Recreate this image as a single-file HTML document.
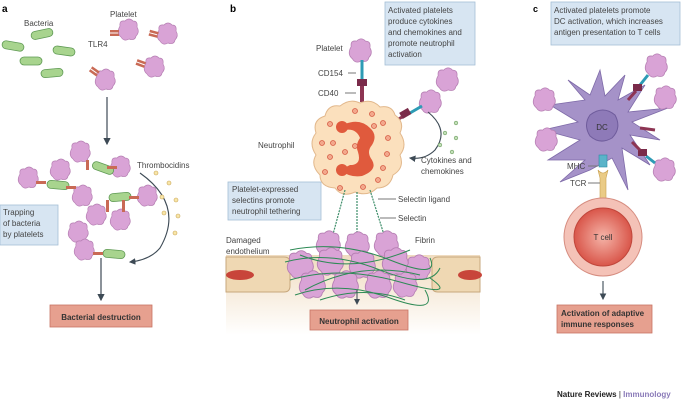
<!DOCTYPE html>
<html><head><meta charset="utf-8"><style>
body{margin:0;background:#fff}
svg{display:block;font-family:"Liberation Sans",sans-serif}
</style></head><body>
<svg width="685" height="405" viewBox="0 0 685 405" xmlns="http://www.w3.org/2000/svg">
<defs>
<g id="pl"><path d="M-8,-4 Q-9,-10 -3,-9 Q1,-13 5,-9 Q10,-9 9,-3 Q12,2 8,6 Q7,11 1,9 Q-4,12 -7,7 Q-12,3 -8,-4Z" fill="#d9a3d6" stroke="#b67fb3" stroke-width="0.7"/></g>
<g id="rod"><rect x="-11" y="-4" width="22" height="8" rx="4" fill="#a8d48e" stroke="#5f9a54" stroke-width="0.8"/></g>
<g id="tlr"><rect x="-9" y="-3" width="9" height="2.5" fill="#c96a55"/><rect x="-9" y="0.5" width="9" height="2.5" fill="#c96a55"/></g>
<marker id="ah" markerWidth="6" markerHeight="6" refX="5" refY="3" orient="auto"><path d="M0,0 L6,3 L0,6Z" fill="#3d4a55"/></marker>
<linearGradient id="bg" x1="0" y1="0" x2="0" y2="1"><stop offset="0" stop-color="#f0dcc0"/><stop offset="1" stop-color="#fff"/></linearGradient>
<radialGradient id="tc"><stop offset="0" stop-color="#f5b4a8"/><stop offset="1" stop-color="#d9564a"/></radialGradient>
</defs>
<!-- Panel a -->
<text x="2" y="12" font-size="10" font-weight="bold">a</text>
<text x="24" y="26" font-size="8" fill="#444">Bacteria</text>
<text x="110" y="17" font-size="8" fill="#444">Platelet</text>
<text x="88" y="47" font-size="8" fill="#444">TLR4</text>
<use href="#rod" transform="translate(13,46) rotate(10)"/>
<use href="#rod" transform="translate(42,34) rotate(-12)"/>
<use href="#rod" transform="translate(64,51) rotate(8)"/>
<use href="#rod" transform="translate(31,61)"/>
<use href="#rod" transform="translate(52,73) rotate(-5)"/>
<use href="#pl" transform="translate(128,30)"/><use href="#tlr" transform="translate(119,33)"/>
<use href="#pl" transform="translate(167,34)"/><use href="#tlr" transform="translate(158,35) rotate(15)"/>
<use href="#pl" transform="translate(154,67)"/><use href="#tlr" transform="translate(145,65) rotate(20)"/>
<use href="#pl" transform="translate(105,80)"/><use href="#tlr" transform="translate(98,74) rotate(35)"/>
<line x1="107" y1="97" x2="107" y2="144" stroke="#3d4a55" stroke-width="1.2" marker-end="url(#ah)"/>
<g>
<use href="#pl" transform="translate(80,152)"/><use href="#pl" transform="translate(120,167)"/>
<use href="#pl" transform="translate(28,178)"/><use href="#pl" transform="translate(60,170)"/>
<use href="#pl" transform="translate(82,196)"/><use href="#pl" transform="translate(147,196)"/>
<use href="#pl" transform="translate(96,215)"/><use href="#pl" transform="translate(120,220)"/>
<use href="#pl" transform="translate(78,232)"/><use href="#pl" transform="translate(84,250)"/>
<use href="#rod" transform="translate(103,168) rotate(20)"/>
<use href="#rod" transform="translate(58,185) rotate(5)"/>
<use href="#rod" transform="translate(120,197) rotate(-5)"/>
<use href="#rod" transform="translate(114,254) rotate(5)"/>
<rect x="36" y="181" width="10" height="3" fill="#c96a55"/><rect x="66" y="186" width="10" height="3" fill="#c96a55"/>
<rect x="86" y="160" width="3" height="10" fill="#c96a55"/><rect x="107" y="166" width="10" height="3" fill="#c96a55"/>
<rect x="106" y="200" width="3" height="12" fill="#c96a55"/><rect x="122" y="200" width="3" height="12" fill="#c96a55"/>
<rect x="129" y="196" width="10" height="3" fill="#c96a55"/><rect x="93" y="252" width="10" height="3" fill="#c96a55"/>
</g>
<text x="137" y="168" font-size="8" fill="#444">Thrombocidins</text>
<path d="M140,173 Q185,205 160,248 Q150,260 130,262" fill="none" stroke="#3d4a55" stroke-width="1.1" marker-end="url(#ah)"/>
<g fill="#f8e6a8" stroke="#c9a65a" stroke-width="0.6">
<circle cx="156" cy="173" r="2"/><circle cx="169" cy="183" r="2"/><circle cx="162" cy="197" r="2"/><circle cx="176" cy="200" r="2"/><circle cx="164" cy="213" r="2"/><circle cx="178" cy="216" r="2"/><circle cx="175" cy="233" r="2"/>
</g>
<rect x="0" y="205" width="58" height="40" fill="#d7e5f2" stroke="#a5bfd6" stroke-width="0.8"/>
<text font-size="8" fill="#444"><tspan x="3" y="215">Trapping</tspan><tspan x="3" y="226">of bacteria</tspan><tspan x="3" y="237">by platelets</tspan></text>
<line x1="101" y1="258" x2="101" y2="300" stroke="#3d4a55" stroke-width="1.2" marker-end="url(#ah)"/>
<rect x="50" y="305" width="102" height="22" fill="#e6a08f" stroke="#c87463" stroke-width="0.8"/>
<text x="101" y="320" font-size="8" font-weight="bold" text-anchor="middle" fill="#333">Bacterial destruction</text>
<!-- Panel b -->
<text x="230" y="12" font-size="10" font-weight="bold">b</text>
<rect x="226" y="255" width="254" height="80" fill="url(#bg)"/>
<path d="M226,257 H284 Q290,257 290,263 V286 Q290,292 284,292 H226Z" fill="#efd8b3" stroke="#c7a77c"/>
<ellipse cx="240" cy="275" rx="14" ry="5" fill="#c8453a"/>
<path d="M480,257 H438 Q432,257 432,263 V286 Q432,292 438,292 H480Z" fill="#efd8b3" stroke="#c7a77c"/>
<ellipse cx="470" cy="275" rx="12" ry="5" fill="#c8453a"/>
<rect x="385" y="2" width="90" height="63" fill="#d7e5f2" stroke="#a5bfd6" stroke-width="0.8"/>
<text font-size="8" fill="#444"><tspan x="388" y="13">Activated platelets</tspan><tspan x="388" y="24">produce cytokines</tspan><tspan x="388" y="35">and chemokines and</tspan><tspan x="388" y="46">promote neutrophil</tspan><tspan x="388" y="57">activation</tspan></text>
<text x="316" y="51" font-size="8" fill="#444">Platelet</text>
<text x="318" y="76" font-size="8" fill="#444">CD154</text>
<text x="318" y="96" font-size="8" fill="#444">CD40</text>
<line x1="348" y1="73" x2="356" y2="73" stroke="#777"/><line x1="345" y1="93" x2="356" y2="93" stroke="#777"/>
<use href="#pl" transform="translate(360,51) scale(1.1)"/>
<line x1="362" y1="60" x2="362" y2="80" stroke="#2d9bb5" stroke-width="3"/>
<rect x="357" y="79" width="10" height="7" fill="#7a2b4a"/><rect x="360" y="86" width="4" height="16" fill="#8d3553"/>
<use href="#pl" transform="translate(447,80) scale(1.1)"/>
<use href="#pl" transform="translate(430,102) scale(1.1)"/>
<line x1="422" y1="106" x2="410" y2="113" stroke="#2d9bb5" stroke-width="3"/>
<rect x="400" y="110" width="10" height="7" fill="#7a2b4a" transform="rotate(-30 405 113)"/>
<line x1="402" y1="117" x2="392" y2="123" stroke="#8d3553" stroke-width="3"/>
<path d="M360,103 Q372,98 380,107 Q392,105 395,115 Q405,122 400,133 Q408,145 400,155 Q405,168 393,175 Q390,188 377,188 Q368,197 355,192 Q342,198 335,188 Q320,187 320,175 Q310,165 316,155 Q308,143 316,133 Q312,120 325,116 Q328,104 340,106 Q350,98 360,103Z" fill="#fbe0bd" stroke="#e2b88c"/>
<path d="M345,124 Q360,118 370,128 Q378,135 372,145 Q366,152 372,160 Q378,170 362,176 Q350,178 340,170 L350,165 Q362,165 358,152 Q355,145 360,138 Q356,128 345,130Z" fill="#e05a3d"/>
<circle cx="342" cy="127" r="6" fill="#e05a3d"/><circle cx="342" cy="170" r="6" fill="#e05a3d"/>
<g fill="#f3a88c" stroke="#d65b44" stroke-width="0.8">
<circle cx="330" cy="124" r="2.5"/><circle cx="355" cy="111" r="2.5"/><circle cx="372" cy="114" r="2.5"/><circle cx="383" cy="123" r="2.5"/><circle cx="388" cy="138" r="2.5"/><circle cx="387" cy="154" r="2.5"/><circle cx="383" cy="168" r="2.5"/><circle cx="322" cy="143" r="2.5"/><circle cx="330" cy="157" r="2.5"/><circle cx="333" cy="143" r="2.5"/><circle cx="355" cy="146" r="2.5"/><circle cx="325" cy="172" r="2.5"/><circle cx="340" cy="188" r="2.5"/><circle cx="363" cy="187" r="2.5"/><circle cx="378" cy="180" r="2.5"/><circle cx="345" cy="152" r="2.5"/><circle cx="374" cy="126" r="2.5"/>
</g>
<text x="258" y="148" font-size="8" fill="#444">Neutrophil</text>
<path d="M428,112 Q450,130 435,150 Q425,160 410,158" fill="none" stroke="#3d4a55" stroke-width="1.1" marker-end="url(#ah)"/>
<g fill="#c3e0b8" stroke="#6f9e62" stroke-width="0.6"><circle cx="456" cy="123" r="1.8"/><circle cx="445" cy="133" r="1.8"/><circle cx="456" cy="138" r="1.8"/><circle cx="440" cy="145" r="1.8"/><circle cx="452" cy="152" r="1.8"/></g>
<text font-size="8" fill="#444"><tspan x="421" y="163">Cytokines and</tspan><tspan x="421" y="174">chemokines</tspan></text>
<rect x="228" y="182" width="93" height="38" fill="#d7e5f2" stroke="#a5bfd6" stroke-width="0.8"/>
<text font-size="8" fill="#444"><tspan x="232" y="192">Platelet-expressed</tspan><tspan x="232" y="203">selectins promote</tspan><tspan x="232" y="214">neutrophil tethering</tspan></text>
<g stroke="#3e8e6a" stroke-width="1.2" stroke-dasharray="2,1">
<line x1="345" y1="190" x2="332" y2="238"/><line x1="357" y1="192" x2="357" y2="238"/><line x1="370" y1="190" x2="385" y2="238"/>
</g>
<line x1="378" y1="199" x2="396" y2="199" stroke="#777"/><line x1="380" y1="218" x2="396" y2="218" stroke="#777"/>
<text x="398" y="202" font-size="8" fill="#444">Selectin ligand</text>
<text x="398" y="221" font-size="8" fill="#444">Selectin</text>
<text font-size="8" fill="#444"><tspan x="226" y="243">Damaged</tspan><tspan x="226" y="254">endothelium</tspan></text>
<text x="415" y="243" font-size="8" fill="#444">Fibrin</text>
<g>
<use href="#pl" transform="translate(328,244) scale(1.2)"/><use href="#pl" transform="translate(357,245) scale(1.2)"/><use href="#pl" transform="translate(386,244) scale(1.2)"/>
<use href="#pl" transform="translate(300,265) scale(1.3)"/><use href="#pl" transform="translate(330,262) scale(1.3)"/><use href="#pl" transform="translate(362,265) scale(1.3)"/><use href="#pl" transform="translate(395,262) scale(1.3)"/><use href="#pl" transform="translate(418,268) scale(1.2)"/>
<use href="#pl" transform="translate(312,285) scale(1.3)"/><use href="#pl" transform="translate(345,285) scale(1.3)"/><use href="#pl" transform="translate(378,285) scale(1.3)"/><use href="#pl" transform="translate(405,285) scale(1.2)"/>
</g>
<g fill="none" stroke="#2d8a55" stroke-width="1">
<path d="M290,250 Q340,240 390,260 T430,258"/><path d="M285,262 Q330,250 380,270 T440,268"/><path d="M290,280 Q340,265 400,282 T430,278"/><path d="M295,295 Q340,280 390,298 T425,290"/><path d="M300,255 Q350,275 410,250"/><path d="M305,290 Q360,260 420,275"/><path d="M320,300 Q365,285 405,300"/>
</g>
<line x1="357" y1="290" x2="357" y2="304" stroke="#3d4a55" stroke-width="1" marker-end="url(#ah)"/>
<rect x="310" y="310" width="98" height="20" fill="#e6a08f" stroke="#c87463" stroke-width="0.8"/>
<text x="359" y="324" font-size="8" font-weight="bold" text-anchor="middle" fill="#333">Neutrophil activation</text>
<!-- Panel c -->
<text x="533" y="12" font-size="9" font-weight="bold">c</text>
<rect x="551" y="2" width="129" height="43" fill="#d7e5f2" stroke="#a5bfd6" stroke-width="0.8"/>
<text font-size="8" fill="#444"><tspan x="554" y="13">Activated platelets promote</tspan><tspan x="554" y="24">DC activation, which increases</tspan><tspan x="554" y="35">antigen presentation to T cells</tspan></text>
<path d="M585,100 L568,80 L590,95 L600,70 L605,96 L625,75 L618,100 L645,85 L628,112 L668,108 L632,122 L660,140 L630,135 L650,165 L622,148 L628,190 L612,158 L590,170 L560,182 L585,160 L548,160 L580,140 L543,130 L578,122 L550,105Z" fill="#a592c8" stroke="#7e6aa8" stroke-width="0.8"/>
<path d="M590,115 Q603,105 615,115 Q622,128 612,138 Q600,145 590,136 Q583,125 590,115Z" fill="#8e7ab8" stroke="#6f5c9c"/>
<text x="602" y="130" font-size="8" text-anchor="middle" fill="#333">DC</text>
<use href="#pl" transform="translate(656,66) scale(1.1)"/><use href="#pl" transform="translate(665,98) scale(1.1)"/><use href="#pl" transform="translate(544,100) scale(1.1)"/><use href="#pl" transform="translate(546,140) scale(1.1)"/><use href="#pl" transform="translate(664,170) scale(1.1)"/>
<line x1="648" y1="75" x2="640" y2="85" stroke="#2d9bb5" stroke-width="3"/><rect x="633" y="84" width="9" height="7" fill="#7a2b4a"/><line x1="636" y1="91" x2="628" y2="100" stroke="#8d3553" stroke-width="3"/>
<line x1="640" y1="128" x2="655" y2="130" stroke="#8d3553" stroke-width="3"/>
<line x1="655" y1="163" x2="646" y2="156" stroke="#2d9bb5" stroke-width="3"/><rect x="638" y="149" width="9" height="7" fill="#7a2b4a"/><line x1="640" y1="150" x2="632" y2="142" stroke="#8d3553" stroke-width="3"/>
<rect x="599" y="155" width="8" height="12" fill="#5ab3c9" stroke="#2d8ca6" stroke-width="0.6"/>
<path d="M598,170 Q603,176 608,170 L606,178 V200 H600 V178Z" fill="#eacb86" stroke="#c9a04f" stroke-width="0.6"/>
<text x="567" y="169" font-size="8" fill="#444">MHC</text><line x1="588" y1="166" x2="598" y2="166" stroke="#777"/>
<text x="570" y="186" font-size="8" fill="#444">TCR</text><line x1="588" y1="183" x2="600" y2="183" stroke="#777"/>
<circle cx="603" cy="237" r="39" fill="#f4c2b7" stroke="#d68d80"/>
<circle cx="603" cy="237" r="29" fill="url(#tc)" stroke="#c0463b"/>
<text x="603" y="240" font-size="8" text-anchor="middle" fill="#333">T cell</text>
<line x1="603" y1="281" x2="603" y2="299" stroke="#3d4a55" stroke-width="1.1" marker-end="url(#ah)"/>
<rect x="557" y="305" width="95" height="28" fill="#e6a08f" stroke="#c87463" stroke-width="0.8"/>
<text font-size="8" font-weight="bold" fill="#333"><tspan x="561" y="316">Activation of adaptive</tspan><tspan x="561" y="327">immune responses</tspan></text>
<text x="557" y="397" font-size="8" font-weight="bold" fill="#222">Nature Reviews<tspan font-weight="normal"> | </tspan><tspan fill="#8a7ab8">Immunology</tspan></text>
</svg>
</body></html>
